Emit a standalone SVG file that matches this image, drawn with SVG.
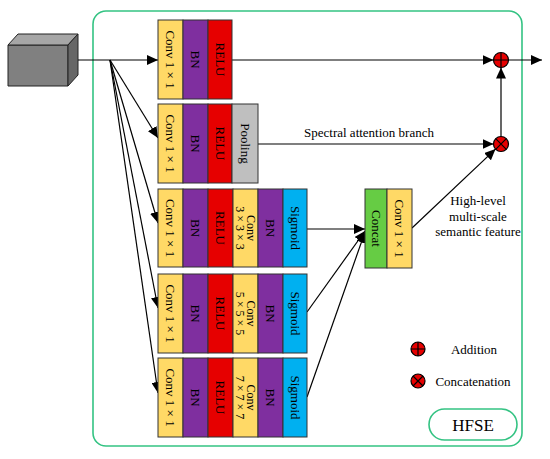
<svg xmlns="http://www.w3.org/2000/svg" width="550" height="459" viewBox="0 0 550 459">
<defs>
<marker id="ah" markerUnits="userSpaceOnUse" markerWidth="12" markerHeight="10" refX="11" refY="5" orient="auto"><path d="M0,0 L11,5 L0,10 Z" fill="#000"/></marker>
<style>
.t{font-family:"Liberation Serif","Times New Roman",serif;fill:#000}
.v{text-anchor:middle;dominant-baseline:central}
.blk{stroke:#333;stroke-width:1}
.y{fill:#FFD966}.p{fill:#7F2F9F}.r{fill:#E60000}.g{fill:#BFBFBF}.b{fill:#00B0F0}.gr{fill:#66CC44}
.ln{stroke:#000;stroke-width:1.2;fill:none}
.op{fill:#E60000;stroke:#000;stroke-width:1.2}
</style>
</defs>
<rect width="550" height="459" fill="#fff"/>
<rect x="93" y="11" width="429" height="435" rx="13" fill="none" stroke="#34C383" stroke-width="1.6"/>

<g id="input">
<polygon points="8,45 68,45 68,86 8,86" fill="#808080" stroke="#222"/>
<polygon points="8,45 18,34 78,34 68,45" fill="#A6A6A6" stroke="#222"/>
<polygon points="68,45 78,34 78,75 68,86" fill="#666" stroke="#222"/>
</g>

<g id="connectors">
<line class="ln" x1="78" y1="60" x2="158" y2="60" marker-end="url(#ah)"/>
<line class="ln" x1="110" y1="60" x2="158" y2="138" marker-end="url(#ah)"/>
<line class="ln" x1="110" y1="60" x2="158" y2="223" marker-end="url(#ah)"/>
<line class="ln" x1="110" y1="60" x2="158" y2="308" marker-end="url(#ah)"/>
<line class="ln" x1="110" y1="60" x2="158" y2="393" marker-end="url(#ah)"/>
<line class="ln" x1="232" y1="60" x2="493.5" y2="60" marker-end="url(#ah)"/>
<line class="ln" x1="508.5" y1="60" x2="542" y2="60" marker-end="url(#ah)"/>
<line class="ln" x1="501" y1="136.5" x2="501" y2="67.5" marker-end="url(#ah)"/>
<line class="ln" x1="258" y1="144" x2="493.5" y2="144" marker-end="url(#ah)"/>
<line class="ln" x1="412" y1="228" x2="495.5" y2="149.1" marker-end="url(#ah)"/>
<line class="ln" x1="307" y1="229" x2="365" y2="229" marker-end="url(#ah)"/>
<line class="ln" x1="307" y1="312" x2="365" y2="231" marker-end="url(#ah)"/>
<line class="ln" x1="307" y1="397" x2="365" y2="232" marker-end="url(#ah)"/>
</g>

<g id="row1">
<rect class="blk y" x="158" y="20" width="25" height="79"/>
<rect class="blk p" x="183" y="20" width="25" height="79"/>
<rect class="blk r" x="208" y="20" width="24" height="79"/>
<text class="t v" font-size="13" transform="translate(170.5,59.5) rotate(90)">Conv 1 × 1</text>
<text class="t v" font-size="13" transform="translate(195.5,59.5) rotate(90)">BN</text>
<text class="t v" font-size="13" transform="translate(220,59.5) rotate(90)">RELU</text>
</g>

<g id="row2">
<rect class="blk y" x="158" y="104" width="25" height="79"/>
<rect class="blk p" x="183" y="104" width="25" height="79"/>
<rect class="blk r" x="208" y="104" width="24" height="79"/>
<rect class="blk g" x="232" y="104" width="26" height="79"/>
<text class="t v" font-size="13" transform="translate(170.5,143.5) rotate(90)">Conv 1 × 1</text>
<text class="t v" font-size="13" transform="translate(195.5,143.5) rotate(90)">BN</text>
<text class="t v" font-size="13" transform="translate(220,143.5) rotate(90)">RELU</text>
<text class="t v" font-size="13" transform="translate(245,143.5) rotate(90)">Pooling</text>
</g>

<g id="row3">
<rect class="blk y" x="158" y="189" width="25" height="78"/>
<rect class="blk p" x="183" y="189" width="25" height="78"/>
<rect class="blk r" x="208" y="189" width="25" height="78"/>
<rect class="blk y" x="233" y="189" width="25" height="78"/>
<rect class="blk p" x="258" y="189" width="25" height="78"/>
<rect class="blk b" x="283" y="189" width="24" height="78"/>
<text class="t v" font-size="13" transform="translate(170.5,228) rotate(90)">Conv 1 × 1</text>
<text class="t v" font-size="13" transform="translate(195.5,228) rotate(90)">BN</text>
<text class="t v" font-size="13" transform="translate(220.5,228) rotate(90)">RELU</text>
<text class="t v" font-size="12" transform="translate(251,228) rotate(90)">Conv</text>
<text class="t v" font-size="12" transform="translate(240,228) rotate(90)">3 × 3 × 3</text>
<text class="t v" font-size="13" transform="translate(270.5,228) rotate(90)">BN</text>
<text class="t v" font-size="13" transform="translate(295,228) rotate(90)">Sigmoid</text>
</g>

<g id="row4">
<rect class="blk y" x="158" y="274" width="25" height="79"/>
<rect class="blk p" x="183" y="274" width="25" height="79"/>
<rect class="blk r" x="208" y="274" width="25" height="79"/>
<rect class="blk y" x="233" y="274" width="25" height="79"/>
<rect class="blk p" x="258" y="274" width="25" height="79"/>
<rect class="blk b" x="283" y="274" width="24" height="79"/>
<text class="t v" font-size="13" transform="translate(170.5,313.5) rotate(90)">Conv 1 × 1</text>
<text class="t v" font-size="13" transform="translate(195.5,313.5) rotate(90)">BN</text>
<text class="t v" font-size="13" transform="translate(220.5,313.5) rotate(90)">RELU</text>
<text class="t v" font-size="12" transform="translate(251,313.5) rotate(90)">Conv</text>
<text class="t v" font-size="12" transform="translate(240,313.5) rotate(90)">5 × 5 × 5</text>
<text class="t v" font-size="13" transform="translate(270.5,313.5) rotate(90)">BN</text>
<text class="t v" font-size="13" transform="translate(295,313.5) rotate(90)">Sigmoid</text>
</g>

<g id="row5">
<rect class="blk y" x="158" y="358" width="25" height="79"/>
<rect class="blk p" x="183" y="358" width="25" height="79"/>
<rect class="blk r" x="208" y="358" width="25" height="79"/>
<rect class="blk y" x="233" y="358" width="25" height="79"/>
<rect class="blk p" x="258" y="358" width="25" height="79"/>
<rect class="blk b" x="283" y="358" width="24" height="79"/>
<text class="t v" font-size="13" transform="translate(170.5,397.5) rotate(90)">Conv 1 × 1</text>
<text class="t v" font-size="13" transform="translate(195.5,397.5) rotate(90)">BN</text>
<text class="t v" font-size="13" transform="translate(220.5,397.5) rotate(90)">RELU</text>
<text class="t v" font-size="12" transform="translate(251,397.5) rotate(90)">Conv</text>
<text class="t v" font-size="12" transform="translate(240,397.5) rotate(90)">7 × 7 × 7</text>
<text class="t v" font-size="13" transform="translate(270.5,397.5) rotate(90)">BN</text>
<text class="t v" font-size="13" transform="translate(295,397.5) rotate(90)">Sigmoid</text>
</g>

<g id="concat">
<rect class="blk gr" x="365" y="189" width="22" height="79"/>
<rect class="blk y" x="387" y="189" width="25" height="79"/>
<text class="t v" font-size="13" transform="translate(376,228.5) rotate(90)">Concat</text>
<text class="t v" font-size="13" transform="translate(399.5,228.5) rotate(90)">Conv 1 × 1</text>
</g>

<g id="addition">
<circle class="op" cx="501" cy="60" r="7.5"/>
<path d="M493.5,60 H508.5 M501,52.5 V67.5" stroke="#000" stroke-width="1.2"/>
</g>
<g id="multiply">
<circle class="op" cx="501" cy="144" r="7.5"/>
<path d="M495.7,138.7 L506.3,149.3 M506.3,138.7 L495.7,149.3" stroke="#000" stroke-width="1.2"/>
</g>

<text class="t" font-size="13" text-anchor="middle" x="369" y="137">Spectral attention branch</text>
<text class="t" font-size="13" text-anchor="middle" x="478" y="205">High-level</text>
<text class="t" font-size="13" text-anchor="middle" x="478" y="221">multi-scale</text>
<text class="t" font-size="13" text-anchor="middle" x="478" y="236">semantic feature</text>

<g id="legend">
<circle class="op" cx="418" cy="349" r="7"/>
<path d="M411,349 H425 M418,342 V356" stroke="#000" stroke-width="1.2"/>
<text class="t" font-size="13" text-anchor="middle" x="474" y="353.5">Addition</text>
<circle class="op" cx="418" cy="381" r="7"/>
<path d="M413,376 L423,386 M423,376 L413,386" stroke="#000" stroke-width="1.2"/>
<text class="t" font-size="13" text-anchor="middle" x="473" y="385.5">Concatenation</text>
</g>

<g id="hfse">
<rect x="429" y="409" width="88" height="31" rx="15.5" fill="#fff" stroke="#34C383" stroke-width="1.6"/>
<text class="t" font-size="17" text-anchor="middle" x="473" y="431">HFSE</text>
</g>
</svg>
